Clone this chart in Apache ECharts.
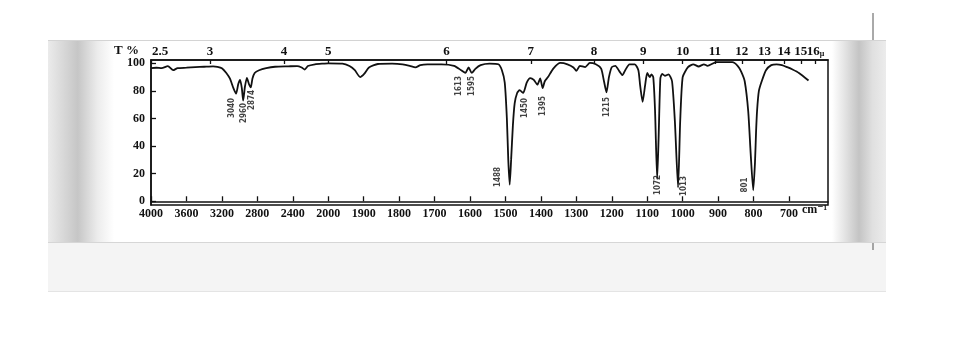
<!DOCTYPE html>
<html><head><meta charset="utf-8">
<script src="https://cdn.jsdelivr.net/npm/echarts@6/dist/echarts.min.js"></script>
<style>html,body{margin:0;padding:0;background:#fff}#c{width:963px;height:341px}</style>
</head><body><div id="c"></div>
<script>
// Spectrum trace: wavenumber (cm-1) and transmittance (T %)
const wavenumbers = [4000,3940,3880,3810,3750,3700,3600,3500,3400,3300,3250,3200,3150,3110,3070,3040,3015,2995,2975,2960,2940,2918,2895,2874,2855,2830,2780,2700,2600,2450,2350,2300,2265,2230,2150,2050,2000,
1960,1940,1925,1910,1898,1885,1860,1820,1790,1770,1754,1740,1720,1680,1645,1625,1613,1604,1595,1585,1570,1545,1520,1510,1502,1496,1492,1488,1484,1479,1474,1467,1460,1450,1440,1430,1420,1410,1402,1395,1389,1380,1365,1345,1325,1308,1300,1290,1275,1262,1245,1230,1222,1215,1208,1200,1190,1178,1170,1162,1150,1135,1125,1120,1113,1106,1100,1093,1088,1083,1078,1072,1068,1063,1058,1050,1040,1030,1022,1013,1007,1000,985,970,955,940,930,905,860,845,835,825,815,808,801,796,793,790,785,777,765,750,735,720,705,690,672,645];
const transmittance = [96.5,96.8,96.5,98,95,96.5,96.8,97.2,97.5,97.8,97.5,96.5,93,89,82,78,85,88,82,73,83,89.5,85,82.5,89,93,95,96.5,97.5,97.8,98,97,95.5,98,99.3,99.8,100,
99.8,98,95,90,92.5,97,99.5,99.8,99.3,98.2,97,98.7,99.3,99.3,98.2,95,93,97,93,96,98.7,99.8,99.3,95,86,60,30,12,30,55,71,78.5,80.5,78.5,86,89.3,88,84.5,89,82,87,90,96.2,100.3,99.3,97,94.5,98.2,97.2,100.3,99.3,96.2,87,79,90,97.2,98.2,94,91.4,95,99.3,99.3,95,84,72,84,93,90,92,90,66,16,45,89,92.4,91,92,87,58,10,58,90,97.2,99.3,97.7,99.3,98.2,100.8,100.8,98.2,94,87,65,34,8,28,50,66,80,87,95,98.7,99.3,98.7,97.2,95.5,93,87.5];

// Axis ticks
const bottomTickValues = [4000,3600,3200,2800,2400,2000,1900,1800,1700,1600,1500,1400,1300,1200,1100,1000,900,800,700];
const bottomTickLabels = ['4000','3600','3200','2800','2400','2000','1900','1800','1700','1600','1500','1400','1300','1200','1100','1000','900','800','700'];
const micronValues = [2.5,3,4,5,6,7,8,9,10,11,12,13,14,15,16];
const micronLabels = ['2.5','3','4','5','6','7','8','9','10','11','12','13','14','15','16μ'];
const yTickValues = [0,20,40,60,80,100];
const yTickLabels = ['0','20','40','60','80','100'];

// Peak annotations (text, and where the text sits in wavenumber / T %)
const peakLabels = ['3040','2960','2874','1613','1595','1488','1450','1395','1215','1072','1013','801'];
const peakLabelWavenumber = [3084,2950,2858,1630,1596,1520,1446,1395,1215,1071,997,825];
const peakLabelT = [67.6,64,73.4,83.6,83.6,17.6,67.6,69,68.3,11.8,11.1,11.8];

// chart-paper scale: 400 cm-1 per division above 2000, 100 cm-1 per division below
function idx(w){ return w >= 2000 ? (4000 - w) / 400 : 5 + (2000 - w) / 100; }
function lookup(vals, labels, v){
  for (let i = 0; i < vals.length; i++) if (Math.abs(vals[i] - v) < 1e-6) return labels[i];
  return '';
}
const bottomPos = bottomTickValues.map(idx);
const topPos = micronValues.map(u => idx(10000 / u));
const topPosMain = topPos.slice(0, topPos.length - 1);
const topPosLast = topPos.slice(topPos.length - 1);

const serif = 'Liberation Serif, DejaVu Serif, serif';
const cond = 'DejaVu Sans Condensed, Liberation Sans Narrow, DejaVu Sans, sans-serif';
const ink = '#111';

const topLabelBase = {margin: 2, color: ink, fontFamily: serif, fontWeight: 'bold', fontSize: 13, hideOverlap: false};

const chart = echarts.init(document.getElementById('c'), null, {renderer: 'canvas'});
chart.setOption({
  backgroundColor: '#fff',
  animation: false,
  graphic: [
    {type: 'rect', z: -20, shape: {x: 48, y: 243, width: 838, height: 49}, style: {fill: '#f4f4f4'}},
    {type: 'rect', z: -19, shape: {x: 48, y: 242, width: 838, height: 1}, style: {fill: '#d6d6d6'}},
    {type: 'rect', z: -19, shape: {x: 48, y: 291, width: 838, height: 1}, style: {fill: '#e4e4e4'}},
    {type: 'rect', z: -19, shape: {x: 48, y: 40, width: 838, height: 1}, style: {fill: '#d4d4d4'}},
    {type: 'rect', z: -18, shape: {x: 48, y: 41, width: 66, height: 201}, style: {fill: new echarts.graphic.LinearGradient(0, 0, 1, 0, [
      {offset: 0, color: '#ebebeb'}, {offset: 0.45, color: '#c6c6c6'}, {offset: 0.75, color: '#ececec'}, {offset: 1, color: '#ffffff'}])}},
    {type: 'rect', z: -18, shape: {x: 832, y: 41, width: 54, height: 201}, style: {fill: new echarts.graphic.LinearGradient(0, 0, 1, 0, [
      {offset: 0, color: '#ffffff'}, {offset: 0.25, color: '#e2e2e2'}, {offset: 0.5, color: '#c4c4c4'}, {offset: 0.75, color: '#e0e0e0'}, {offset: 1, color: '#ececec'}])}},
    {type: 'line', z: -17, shape: {x1: 873, y1: 13, x2: 873, y2: 40}, style: {stroke: '#555', lineWidth: 1}},
    {type: 'line', z: -17, shape: {x1: 873, y1: 243, x2: 873, y2: 250}, style: {stroke: '#555', lineWidth: 1}}
  ],
  grid: {left: 151, right: 135, top: 60, bottom: 136, show: true, borderColor: ink, borderWidth: 1.5, backgroundColor: 'transparent'},
  xAxis: [
    {
      type: 'value', position: 'bottom', min: 0, max: 19.1,
      splitLine: {show: false},
      axisLine: {lineStyle: {color: ink, width: 1.5}},
      axisTick: {inside: true, length: 5, customValues: bottomPos, lineStyle: {color: ink, width: 1.3}},
      axisLabel: {customValues: bottomPos, margin: 3, color: ink, fontFamily: serif, fontWeight: 'bold', fontSize: 12, hideOverlap: false,
        formatter: v => lookup(bottomPos, bottomTickLabels, v)},
      name: 'cm⁻¹', nameLocation: 'end', nameGap: -31,
      nameTextStyle: {color: ink, fontFamily: serif, fontWeight: 'bold', fontSize: 12, align: 'left', verticalAlign: 'top', padding: [3, 0, 0, 0]}
    },
    {
      type: 'value', position: 'top', min: 0, max: 19.1,
      splitLine: {show: false},
      axisLine: {lineStyle: {color: ink, width: 1.5}},
      axisTick: {inside: true, length: 4, customValues: topPos, lineStyle: {color: ink, width: 1.3}},
      axisLabel: Object.assign({}, topLabelBase, {customValues: topPosMain,
        formatter: v => {
          const t = lookup(topPos, micronLabels, v);
          return t === '2.5' ? '{f|2.5}' : t;
        },
        rich: {f: {padding: [0, 0, 0, 18], fontFamily: serif, fontWeight: 'bold', fontSize: 13, color: ink}}})
    },
    {
      type: 'value', position: 'top', min: 0, max: 19.1, offset: 0,
      splitLine: {show: false},
      axisLine: {show: false},
      axisTick: {show: false},
      axisLabel: Object.assign({}, topLabelBase, {customValues: topPosLast,
        formatter: v => {
          const t = lookup(topPos, micronLabels, v);
          return t === '16μ' ? '{n|16}{m|μ}' : t;
        },
        rich: {
          n: {fontFamily: serif, fontWeight: 'bold', fontSize: 13, color: ink},
          m: {fontFamily: serif, fontWeight: 'bold', fontSize: 8, color: ink, padding: [4, 0, 0, 0]}
        }})
    }
  ],
  yAxis: {
    type: 'value', min: -2.7, max: 102.4,
    splitLine: {show: false},
    axisLine: {lineStyle: {color: ink, width: 1.5}},
    axisTick: {inside: true, length: 5, customValues: yTickValues, lineStyle: {color: ink, width: 1.3}},
    axisLabel: {customValues: yTickValues, margin: 6, color: ink, fontFamily: serif, fontWeight: 'bold', fontSize: 12,
      formatter: v => lookup(yTickValues, yTickLabels, v)},
    name: 'T %', nameLocation: 'end', nameGap: 2,
    nameTextStyle: {color: ink, fontFamily: serif, fontWeight: 'bold', fontSize: 13, align: 'right', verticalAlign: 'bottom', padding: [0, 12, 0, 0]}
  },
  series: [
    {
      type: 'line', xAxisIndex: 0, showSymbol: false, smooth: 0.2, silent: true,
      lineStyle: {color: ink, width: 1.8},
      data: wavenumbers.map((w, i) => [idx(w), transmittance[i]])
    },
    {
      type: 'scatter', xAxisIndex: 0, symbolSize: 0, silent: true,
      label: {show: true, position: 'inside', rotate: 90, color: ink, fontFamily: cond, fontWeight: 'bold', fontSize: 8,
        formatter: p => p.data[2]},
      data: peakLabels.map((t, i) => [idx(peakLabelWavenumber[i]), peakLabelT[i], t])
    }
  ]
});
</script></body></html>
